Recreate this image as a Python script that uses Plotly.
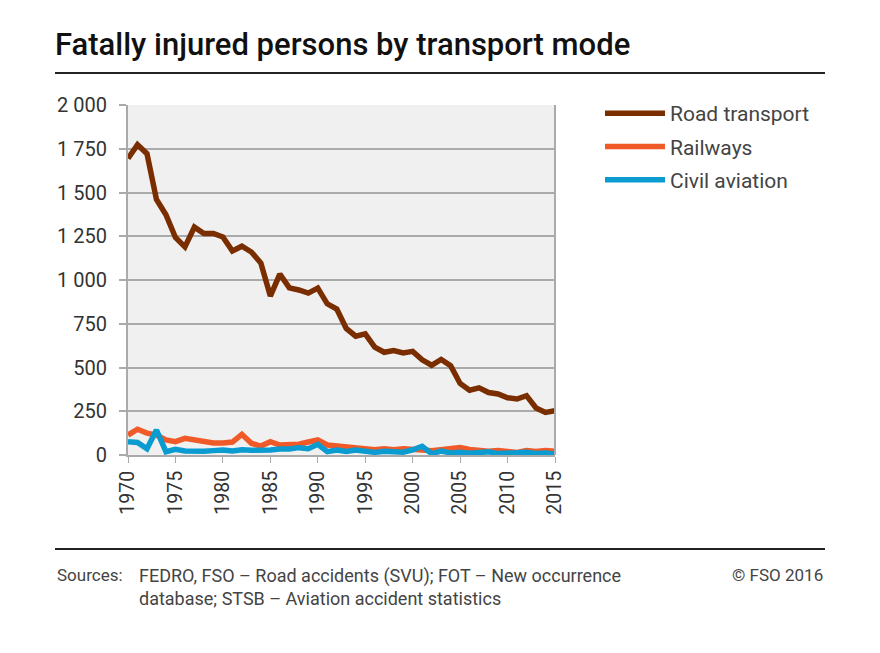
import plotly.graph_objects as go

years = list(range(1970, 2016))

road = [1694, 1773, 1722, 1460, 1373, 1243, 1189, 1302, 1266, 1266,
        1246, 1166, 1193, 1160, 1097, 908, 1034, 955, 943, 925,
        954, 864, 834, 723, 679, 692, 616, 587, 597, 583,
        592, 544, 513, 546, 510, 409, 370, 384, 357, 349,
        327, 320, 339, 269, 243, 253]

rail = [114, 147, 125, 114, 86, 76, 95, 86, 74, 69,
        68, 74, 118, 67, 51, 76, 57, 60, 62, 74,
        86, 57, 53, 45, 42, 38, 30, 35, 30, 35,
        29, 28, 25, 30, 35, 42, 32, 25, 22, 25,
        23, 15, 25, 20, 25, 22]

avia = [76, 72, 36, 143, 19, 32, 23, 21, 21, 25,
        29, 23, 30, 27, 25, 29, 34, 34, 42, 36,
        61, 19, 29, 20, 28, 25, 15, 22, 18, 16,
        30, 50, 8, 22, 12, 15, 10, 14, 18, 8,
        12, 10, 15, 8, 12, 6]

series_names = ["Road transport", "Railways", "Civil aviation"]
series_colors = ["#7a2e00", "#f05a28", "#0a9bd0"]

y_ticks = [0, 250, 500, 750, 1000, 1250, 1500, 1750, 2000]
y_ticktext = ["0", "250", "500", "750", "1 000", "1 250", "1 500", "1 750", "2 000"]
x_ticks = [1970, 1975, 1980, 1985, 1990, 1995, 2000, 2005, 2010, 2015]

fig = go.Figure()
for name, vals, col in zip(series_names, [road, rail, avia], series_colors):
    fig.add_trace(go.Scatter(x=years, y=vals, mode="lines", name=name,
                             legendgroup=name,
                             line=dict(color=col, width=5.5)))

font_family = "Roboto, 'Open Sans', sans-serif"

fig.update_layout(
    width=880, height=653,
    margin=dict(l=128, r=325, t=105, b=198),
    paper_bgcolor="white",
    plot_bgcolor="#f0f0f0",
    font=dict(family=font_family, color="#333333", size=18),
    showlegend=True,
    legend=dict(
        xref="container", yref="container",
        x=600/880, y=1 - 93/653, xanchor="left", yanchor="top",
        font=dict(size=21, color="#444444"),
        bgcolor="rgba(0,0,0,0)",
        tracegroupgap=3,
        itemwidth=60,
    ),
    xaxis=dict(
        range=[1970, 2015],
        tickvals=x_ticks,
        tickangle=-90,
        ticks="outside", ticklen=6, tickcolor="#aaaaaa", tickwidth=1,
        showgrid=False,
        showline=True, linecolor="#aaaaaa", linewidth=2,
        mirror=False,
        zeroline=False,
        tickfont=dict(size=19.5, color="#333333"),
    ),
    yaxis=dict(
        range=[0, 2000],
        tickvals=y_ticks, ticktext=y_ticktext,
        ticks="outside", ticklen=7, tickcolor="#aaaaaa", tickwidth=2,
        ticklabelstandoff=8,
        showgrid=True, gridcolor="#aaaaaa", gridwidth=2,
        showline=True, linecolor="#aaaaaa", linewidth=2,
        zeroline=False,
        tickfont=dict(size=20, color="#333333"),
    ),
    shapes=[
        dict(type="line", xref="paper", yref="paper", x0=1, x1=1, y0=0, y1=1,
             line=dict(color="#aaaaaa", width=2)),
        dict(type="line", xref="paper", yref="paper",
             x0=(55 - 128) / 427, x1=(825 - 128) / 427,
             y0=(455 - 73) / 350, y1=(455 - 73) / 350,
             line=dict(color="#222222", width=2)),
        dict(type="line", xref="paper", yref="paper",
             x0=(55 - 128) / 427, x1=(825 - 128) / 427,
             y0=(455 - 549) / 350, y1=(455 - 549) / 350,
             line=dict(color="#222222", width=2)),
    ],
    annotations=[
        dict(xref="paper", yref="paper", x=(53 - 128) / 427, y=(455 - 45) / 350,
             xanchor="left", yanchor="middle", showarrow=False,
             text="Fatally injured persons by transport mode",
             font=dict(size=31, color="#111111", family=font_family, weight=500)),
        dict(xref="paper", yref="paper", x=(55 - 128) / 427, y=(455 - 563) / 350,
             xanchor="left", yanchor="top", showarrow=False, align="left",
             text="Sources:",
             font=dict(size=17, color="#444444", family=font_family)),
        dict(xref="paper", yref="paper", x=(137 - 128) / 427, y=(455 - 563) / 350,
             xanchor="left", yanchor="top", showarrow=False, align="left",
             text="FEDRO, FSO – Road accidents (SVU); FOT – New occurrence<br>database; STSB – Aviation accident statistics",
             font=dict(size=18, color="#444444", family=font_family)),
        dict(xref="paper", yref="paper", x=(825 - 128) / 427, y=(455 - 563) / 350,
             xanchor="right", yanchor="top", showarrow=False, align="right",
             text="© FSO 2016",
             font=dict(size=17, color="#444444", family=font_family)),
    ],
)

fig.write_html("out.html")
